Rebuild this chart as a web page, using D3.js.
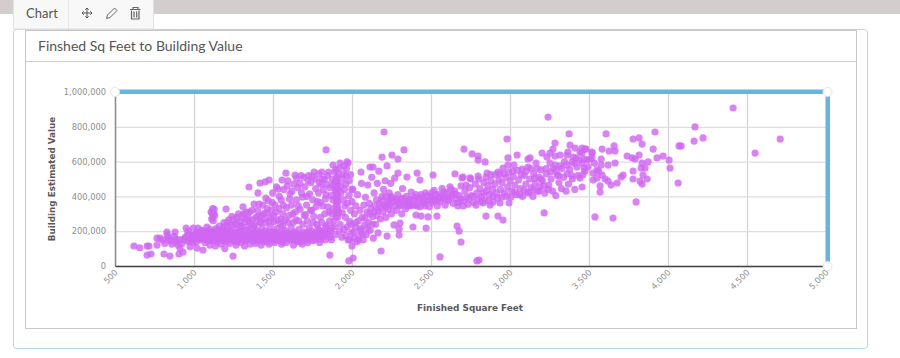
<!DOCTYPE html>
<html lang="en">
<head>
<meta charset="UTF-8">
<title>Finshed Sq Feet to Building Value</title>
<script src="https://cdn.jsdelivr.net/npm/d3@7"></script>
<style>
    html, body { margin: 0; padding: 0; background: #fff; overflow: hidden; }
    svg { display: block; }
</style>
</head>
<body>
<script>
    var xTicks = [500, 1000, 1500, 2000, 2500, 3000, 3500, 4000, 4500, 5000];
    var yTicks = [0, 200000, 400000, 600000, 800000, 1000000];

    // values: [finished sq ft, building value]
    var smallHomes = [[620,115000],[656,105000],[703,115000],[715,115000],[703,63000],[728,69000],[810,69000],[848,57000],[766,120000],[766,160000],[785,160000],[800,150000],[829,195000],[836,167000],[815,130000],[840,150000],[860,125000],[880,195000],[875,170000],[890,140000],[911,103000],[930,80000],[905,69000],[900,120000],[925,130000],[950,218000],[945,165000],[960,185000],[975,110000],[985,150000],[995,218000],[970,140000],[990,175000],[830,180000],[855,145000],[885,155000],[910,150000],[935,155000],[955,145000],[965,200000],[980,165000],[995,135000]];

    var band1000 = [[1005,160000],[1010,185000],[1015,140000],[1019,103000],[1025,218000],[1030,175000],[1035,195000],[1040,150000],[1045,170000],[1050,205000],[1057,92000],[1060,160000],[1065,185000],[1070,135000],[1075,175000],[1082,224000],[1085,150000],[1090,195000],[1095,165000],[1100,120000],[1100,210000],[1105,180000],[1108,310000],[1110,145000],[1114,305000],[1118,330000],[1120,280000],[1122,260000],[1125,300000],[1128,325000],[1130,290000],[1112,270000],[1115,170000],[1120,200000],[1125,150000],[1130,185000],[1135,115000],[1135,165000],[1140,215000],[1145,140000],[1150,195000],[1155,175000],[1160,230000],[1165,155000],[1170,125000],[1175,190000],[1180,210000],[1185,145000],[1190,250000],[1190,170000],[1195,100000],[1200,195000],[1203,327000],[1205,150000],[1210,230000],[1215,175000],[1220,265000],[1225,130000],[1230,205000],[1235,160000],[1240,285000],[1245,185000],[1247,57000],[1250,145000],[1255,240000],[1260,170000],[1265,120000],[1270,215000],[1275,280000],[1280,155000],[1285,195000],[1290,255000],[1295,135000],[1300,180000],[1305,225000],[1310,340000],[1310,160000],[1315,300000],[1320,115000],[1325,205000],[1330,270000],[1335,150000],[1340,190000],[1345,235000],[1348,454000],[1350,310000],[1355,125000],[1360,170000],[1365,215000],[1370,265000],[1375,145000],[1380,356000],[1380,185000]];

    var band1400 = [[1385,240000],[1390,130000],[1395,205000],[1400,165000],[1405,420000],[1405,285000],[1410,150000],[1412,356000],[1415,190000],[1418,477000],[1420,255000],[1425,120000],[1430,220000],[1435,170000],[1440,300000],[1445,140000],[1450,483000],[1450,200000],[1455,390000],[1455,250000],[1460,160000],[1465,330000],[1470,180000],[1475,494000],[1475,125000],[1480,225000],[1485,280000],[1490,150000],[1495,365000],[1500,195000],[1505,255000],[1510,135000],[1515,170000],[1520,310000],[1525,215000],[1532,442000],[1535,145000],[1540,400000],[1545,185000],[1550,270000],[1555,125000],[1557,494000],[1560,230000],[1565,350000],[1570,160000],[1575,205000],[1582,534000],[1585,135000],[1590,460000],[1595,250000],[1600,180000],[1605,385000],[1610,150000],[1615,220000],[1620,430000],[1625,300000],[1630,120000],[1635,195000],[1640,523000],[1640,165000],[1645,265000],[1650,505000],[1655,140000],[1660,345000],[1665,210000],[1670,475000],[1675,175000],[1680,420000],[1685,125000],[1690,240000],[1695,510000],[1700,155000],[1705,295000],[1710,190000],[1715,400000],[1720,135000],[1725,520000],[1730,220000],[1735,170000],[1740,480000],[1745,320000],[1750,145000],[1755,250000],[1760,540000],[1765,190000],[1770,445000],[1775,160000],[1780,370000],[1785,215000],[1790,530000],[1795,135000],[1800,280000],[1805,470000],[1810,540000],[1810,175000],[1815,345000],[1820,200000],[1825,500000],[1830,150000],[1836,667000],[1835,410000],[1840,235000],[1845,520000],[1850,175000],[1855,310000],[1860,63000],[1860,450000],[1865,200000],[1870,150000],[1875,500000],[1880,580000],[1880,380000],[1885,260000],[1890,540000],[1895,430000],[1895,180000]];

    var column1900 = [[1900,285000],[1900,320000],[1900,355000],[1900,390000],[1900,425000],[1900,460000],[1900,495000],[1905,300000],[1905,340000],[1905,375000],[1905,410000],[1905,445000],[1905,480000],[1905,510000],[1910,280000],[1910,330000],[1910,365000],[1910,400000],[1910,435000],[1910,470000],[1915,525000],[1915,310000],[1920,200000],[1925,592000],[1925,240000],[1930,420000],[1935,165000],[1940,500000],[1945,530000],[1945,380000],[1950,210000],[1955,345000],[1960,470000],[1965,560000],[1969,598000],[1975,592000],[1975,150000],[1980,29000],[1980,405000],[1985,255000],[1990,525000],[1995,190000]];

    var band2000 = [[2000,115000],[2000,370000],[2005,440000],[2007,46000],[2010,160000],[2015,300000],[2020,225000],[2025,345000],[2030,140000],[2035,410000],[2040,260000],[2045,175000],[2050,320000],[2057,540000],[2055,205000],[2060,475000],[2065,280000],[2070,150000],[2075,350000],[2080,235000],[2085,395000],[2090,180000],[2095,310000],[2100,465000],[2105,250000],[2110,360000],[2114,569000],[2115,205000],[2120,330000],[2125,510000],[2130,285000],[2133,569000],[2135,160000],[2140,420000],[2145,345000],[2150,240000],[2155,380000],[2160,475000],[2165,190000],[2165,320000],[2170,545000],[2175,360000],[2180,270000],[2184,86000],[2190,626000],[2190,400000],[2195,310000],[2203,770000],[2200,440000],[2205,345000],[2210,490000],[2215,280000],[2222,575000],[2222,172000],[2225,375000],[2230,325000],[2235,420000],[2240,355000],[2245,475000],[2253,638000],[2250,300000],[2255,390000],[2260,340000],[2266,236000],[2270,505000],[2275,370000],[2280,320000],[2291,615000],[2291,534000],[2290,410000],[2298,178000],[2298,213000],[2300,350000],[2304,247000],[2310,385000],[2315,300000],[2320,445000],[2329,667000],[2330,360000],[2340,330000],[2348,511000],[2345,400000],[2355,370000],[2365,345000],[2375,425000],[2386,224000],[2385,385000],[2395,350000],[2405,293000],[2405,410000],[2412,534000],[2420,370000],[2430,494000],[2437,287000],[2430,340000],[2445,395000],[2455,360000],[2469,218000],[2465,420000],[2481,282000],[2475,375000],[2490,340000],[2500,400000]];

    var band2500 = [[2513,523000],[2510,365000],[2520,435000],[2530,385000],[2538,287000],[2540,345000],[2550,410000],[2557,52000],[2560,370000],[2570,445000],[2580,390000],[2590,350000],[2600,420000],[2610,375000],[2620,455000],[2630,400000],[2640,360000],[2652,529000],[2650,430000],[2660,385000],[2665,230000],[2670,345000],[2678,201000],[2680,405000],[2690,138000],[2690,460000],[2696,506000],[2703,511000],[2700,375000],[2709,672000],[2715,430000],[2725,395000],[2735,355000],[2747,506000],[2745,450000],[2760,644000],[2755,405000],[2770,365000],[2780,470000],[2791,29000],[2790,420000],[2798,632000],[2798,609000],[2798,517000],[2804,34000],[2800,385000],[2810,445000],[2820,400000],[2830,362000],[2835,480000],[2842,598000],[2842,379000],[2848,287000],[2850,430000],[2855,534000],[2860,460000],[2874,350000],[2870,410000],[2880,490000],[2893,368000],[2890,440000],[2905,470000],[2915,420000],[2924,540000],[2924,287000],[2930,495000],[2937,362000],[2940,440000],[2956,563000],[2956,264000],[2950,480000],[2965,420000],[2975,510000],[2981,730000],[2987,621000],[2987,580000],[2994,362000],[2985,455000],[3000,490000]];

    var band3000 = [[3010,430000],[3025,580000],[3020,515000],[3030,465000],[3045,638000],[3040,410000],[3055,495000],[3065,445000],[3076,557000],[3080,400000],[3090,520000],[3100,470000],[3114,569000],[3114,615000],[3110,425000],[3127,621000],[3125,500000],[3135,450000],[3150,530000],[3145,400000],[3165,592000],[3160,475000],[3175,430000],[3185,510000],[3196,552000],[3190,455000],[3203,649000],[3205,490000],[3216,305000],[3220,420000],[3234,626000],[3230,530000],[3241,856000],[3245,465000],[3253,649000],[3253,592000],[3260,500000],[3272,672000],[3270,430000],[3285,707000],[3285,632000],[3285,580000],[3290,405000],[3300,520000],[3317,638000],[3317,575000],[3310,480000],[3325,445000],[3340,510000],[3355,430000],[3361,638000],[3361,580000],[3367,655000],[3370,470000],[3374,759000],[3380,695000],[3393,598000],[3399,626000],[3395,500000],[3412,678000],[3418,621000],[3410,440000],[3424,569000],[3430,520000],[3443,655000],[3443,506000],[3456,678000],[3456,649000],[3456,592000],[3456,454000],[3469,615000],[3469,563000],[3475,672000],[3475,546000],[3481,672000],[3488,609000],[3507,615000],[3519,655000],[3519,649000],[3519,621000],[3526,534000],[3526,494000],[3538,282000],[3551,552000],[3551,506000],[3570,460000],[3570,425000],[3577,615000],[3577,580000],[3583,672000],[3583,523000]];

    var largeHomes = [[3602,500000],[3608,759000],[3621,580000],[3621,488000],[3627,661000],[3640,465000],[3652,276000],[3659,690000],[3665,661000],[3665,592000],[3678,477000],[3703,511000],[3716,523000],[3741,632000],[3773,621000],[3779,730000],[3779,546000],[3779,500000],[3792,615000],[3798,368000],[3817,736000],[3817,638000],[3823,488000],[3830,563000],[3836,701000],[3836,592000],[3836,471000],[3842,523000],[3855,563000],[3868,500000],[3874,598000],[3906,672000],[3918,770000],[3931,621000],[3969,632000],[4007,609000],[4013,563000],[4064,477000],[4070,690000],[4083,690000],[4165,718000],[4171,799000],[4222,736000],[4412,908000],[4551,649000],[4710,730000]];

    // the crowded stretch along the bottom of the cloud
    var denseBand = [[1000,175000],[1012,165000],[1022,190000],[1033,155000],[1042,180000],[1052,170000],[1062,200000],[1072,160000],[1083,185000],[1092,145000],[1103,175000],[1113,195000],[1123,165000],[1133,180000],[1143,150000],[1153,205000],[1163,170000],[1173,185000],[1183,160000],[1193,195000],[1203,140000],[1213,180000],[1223,160000],[1233,200000],[1243,150000],[1253,175000],[1263,190000],[1273,140000],[1283,170000],[1293,200000],[1303,155000],[1313,180000],[1323,145000],[1333,170000],[1343,205000],[1353,160000],[1363,185000],[1373,150000],[1383,175000],[1393,195000],[1403,145000],[1413,170000],[1423,150000],[1433,190000],[1443,165000],[1453,175000],[1463,140000],[1473,195000],[1483,160000],[1493,180000],[1503,150000],[1513,195000],[1523,165000],[1533,180000],[1543,155000],[1553,195000],[1563,140000],[1573,175000],[1583,160000],[1593,190000],[1603,165000],[1613,180000],[1623,150000],[1633,170000],[1643,190000],[1653,155000],[1663,180000],[1673,140000],[1683,165000],[1693,195000],[1703,175000],[1713,150000],[1723,185000],[1733,160000],[1743,200000],[1753,170000],[1763,150000],[1773,185000],[1783,165000],[1793,205000],[1803,155000],[1813,190000],[1823,170000],[1833,225000],[1843,185000],[1853,200000],[1863,165000],[1873,220000]];

    // filling of the upper cloud between 1,200 and 1,950 sq ft
    var upperCloud = [[1190,225000],[1215,250000],[1235,235000],[1250,270000],[1268,250000],[1282,300000],[1295,230000],[1305,285000],[1318,255000],[1330,310000],[1342,280000],[1355,250000],[1368,320000],[1378,230000],[1392,280000],[1402,320000],[1418,250000],[1428,290000],[1435,350000],[1448,270000],[1458,305000],[1470,375000],[1478,260000],[1488,320000],[1498,420000],[1503,290000],[1512,350000],[1522,455000],[1528,265000],[1538,330000],[1548,240000],[1552,380000],[1562,300000],[1568,440000],[1578,265000],[1586,335000],[1594,490000],[1602,290000],[1608,415000],[1618,350000],[1628,250000],[1632,470000],[1642,310000],[1648,380000],[1658,450000],[1662,260000],[1672,325000],[1678,520000],[1688,395000],[1698,290000],[1702,455000],[1712,350000],[1718,260000],[1722,490000],[1732,415000],[1738,320000],[1748,515000],[1752,380000],[1758,285000],[1768,500000],[1772,340000],[1778,240000],[1788,420000],[1792,480000],[1798,365000],[1808,250000],[1812,500000],[1818,440000],[1828,300000],[1832,385000],[1842,470000],[1848,340000],[1852,540000],[1858,260000],[1868,405000],[1872,300000],[1878,465000],[1882,330000],[1888,225000],[1892,480000],[1898,555000],[1918,560000],[1928,460000],[1938,305000],[1948,575000],[1952,440000],[1958,280000],[1962,520000],[1972,360000],[1982,490000],[1992,320000],[1998,440000]];

    // filling of the rising band past 2,000 sq ft
    var risingBand = [[1960,175000],[1970,225000],[1985,150000],[1995,240000],[2010,195000],[2025,250000],[2040,150000],[2052,215000],[2068,185000],[2082,275000],[2098,215000],[2112,300000],[2128,240000],[2142,310000],[2158,290000],[2172,335000],[2186,375000],[2198,345000],[2212,400000],[2218,340000],[2232,365000],[2248,400000],[2262,375000],[2282,385000],[2295,360000],[2308,345000],[2322,390000],[2335,375000],[2352,345000],[2368,385000],[2382,350000],[2398,395000],[2412,345000],[2425,385000],[2438,410000],[2452,375000],[2462,345000],[2478,405000],[2492,380000],[2505,420000],[2518,375000],[2528,410000],[2542,380000],[2555,390000],[2568,405000],[2585,425000],[2598,385000],[2615,395000],[2628,440000],[2642,415000],[2658,410000],[2672,365000],[2688,385000],[2705,345000],[2722,465000],[2738,385000],[2752,500000],[2768,400000],[2785,350000],[2802,500000],[2818,370000],[2832,420000],[2848,510000],[2865,375000],[2878,525000],[2892,400000],[2908,525000],[2922,390000],[2935,530000],[2948,395000],[2962,530000],[2978,400000],[2992,540000],[3005,395000],[3018,545000],[3032,425000],[3048,550000],[3062,410000],[3072,525000],[3088,435000],[3102,545000],[3118,420000],[3132,560000],[3148,440000],[3158,505000],[3172,560000],[3182,430000],[3198,500000],[3212,460000],[3228,560000],[3242,440000],[3258,540000],[3275,560000],[3292,545000],[3308,520000],[3328,560000],[3345,600000],[3362,530000],[3378,555000],[3392,520000],[3408,590000],[3438,610000],[3462,525000],[3495,570000],[3535,590000],[3560,545000]];

    var W = 900, H = 358;
    var plot = { left: 115, right: 826, top: 92, bottom: 266 };

    var svg = d3.select("body").append("svg")
        .attr("width", W)
        .attr("height", H)
        .attr("viewBox", [0, 0, W, H]);

    var bodyFont = "Lato, 'Open Sans', sans-serif";
    var chartFont = "'DejaVu Sans', Verdana, sans-serif";

    // page chrome
    svg.append("rect").attr("width", W).attr("height", 14).attr("fill", "#d3cecd");
    svg.append("rect")
        .attr("x", 13.5).attr("y", 29.5).attr("width", 854).attr("height", 319).attr("rx", 3)
        .attr("fill", "#fff").attr("stroke", "#b5d6ea");
    svg.append("rect")
        .attr("x", 25.5).attr("y", 30.5).attr("width", 831).attr("height", 298)
        .attr("fill", "#fff").attr("stroke", "#c8c8c8");
    svg.append("line")
        .attr("x1", 26).attr("x2", 856).attr("y1", 61.5).attr("y2", 61.5)
        .attr("stroke", "#cccccc");
    svg.append("text")
        .attr("x", 38).attr("y", 51)
        .attr("font-family", bodyFont).attr("font-size", 14).attr("fill", "#555555")
        .text("Finshed Sq Feet to Building Value");

    // edit toolbar
    var toolbar = svg.append("g");
    toolbar.append("rect")
        .attr("x", 13.5).attr("y", -1).attr("width", 140).attr("height", 30)
        .attr("fill", "#f8f8f8").attr("stroke", "#e2e2e2");
    toolbar.append("line")
        .attr("x1", 68.5).attr("x2", 68.5).attr("y1", 0).attr("y2", 29)
        .attr("stroke", "#e8e8e8");
    toolbar.append("text")
        .attr("x", 26).attr("y", 17.5)
        .attr("font-family", bodyFont).attr("font-size", 13).attr("fill", "#555555")
        .text("Chart");
    // move icon
    toolbar.append("path")
        .attr("d", "M87 8V18M82 13H92M85.3 9.7L87 8L88.7 9.7M85.3 16.3L87 18L88.7 16.3M83.7 11.3L82 13L83.7 14.7M90.3 11.3L92 13L90.3 14.7")
        .attr("fill", "none").attr("stroke", "#555").attr("stroke-width", 1);
    // pencil icon
    toolbar.append("path")
        .attr("d", "M106.5 18.5L107.5 15L114.5 8L117 10.5L110 17.5Z")
        .attr("fill", "none").attr("stroke", "#666").attr("stroke-width", 1);
    // trash icon
    toolbar.append("path")
        .attr("d", "M130 9.5H140.5M133 9.5V7.5H138V9.5M131.5 10.5V19H139V10.5M134 11.5V17.5M136.7 11.5V17.5")
        .attr("fill", "none").attr("stroke", "#666").attr("stroke-width", 1.2);

    // scales
    var xScale = d3.scaleLinear().domain([500, 5000]).range([plot.left, plot.right]);
    var yScale = d3.scaleLinear().domain([0, 1000000]).range([plot.bottom, plot.top]);

    // grid
    var grid = svg.append("g");
    grid.append("g")
        .attr("transform", "translate(0," + plot.bottom + ")")
        .call(d3.axisBottom(xScale).tickValues(xTicks).tickSize(-(plot.bottom - plot.top)).tickFormat(""))
        .call(function (g) { g.select(".domain").remove(); })
        .selectAll("line").attr("stroke", "#d4d4d4").attr("stroke-width", 1.3);
    grid.append("g")
        .attr("transform", "translate(" + plot.left + ",0)")
        .call(d3.axisLeft(yScale).tickValues(yTicks).tickSize(-(plot.right - plot.left)).tickFormat(""))
        .call(function (g) { g.select(".domain").remove(); })
        .selectAll("line").attr("stroke", "#dedede").attr("stroke-width", 1.3);

    // points
    var homes = d3.merge([smallHomes, band1000, band1400, column1900, band2000, band2500, band3000, largeHomes, denseBand, upperCloud, risingBand]);
    svg.append("g").selectAll("circle")
        .data(homes)
        .join("circle")
        .attr("cx", function (d) { return xScale(d[0]); })
        .attr("cy", function (d) { return yScale(d[1]); })
        .attr("r", 3.6)
        .attr("fill", "#cf66f1")
        .attr("fill-opacity", 0.82);

    // axes
    var yAxis = svg.append("g")
        .attr("transform", "translate(" + plot.left + ",0)")
        .call(d3.axisLeft(yScale).tickValues(yTicks).tickSize(0).tickPadding(9).tickFormat(d3.format(",")));
    yAxis.select(".domain").attr("stroke", "#8c8c8c").attr("stroke-width", 1.5);
    yAxis.selectAll("text")
        .attr("font-family", chartFont).attr("font-size", 8.3).attr("fill", "#8f8f8f");

    var xAxis = svg.append("g")
        .attr("transform", "translate(0," + plot.bottom + ")")
        .call(d3.axisBottom(xScale).tickValues(xTicks).tickSize(0).tickFormat(d3.format(",")));
    xAxis.select(".domain").attr("stroke", "#444").attr("stroke-width", 1.5);
    xAxis.selectAll("text")
        .attr("font-family", chartFont).attr("font-size", 8.3).attr("fill", "#8f8f8f")
        .attr("text-anchor", "end")
        .attr("dx", "-3px").attr("dy", "4px")
        .attr("transform", "rotate(-45)");

    // axis titles
    svg.append("text")
        .attr("transform", "translate(55,179) rotate(-90)")
        .attr("text-anchor", "middle")
        .attr("font-family", chartFont).attr("font-weight", "bold").attr("font-size", 8.8).attr("fill", "#5a5a5a")
        .text("Building Estimated Value");
    svg.append("text")
        .attr("x", 470).attr("y", 311)
        .attr("text-anchor", "middle")
        .attr("font-family", chartFont).attr("font-weight", "bold").attr("font-size", 8.9).attr("fill", "#5a5a5a")
        .text("Finished Square Feet");

    // range sliders
    svg.append("rect")
        .attr("x", plot.left).attr("y", 89.5).attr("width", plot.right - plot.left + 4).attr("height", 4.5)
        .attr("fill", "#67b4dc");
    svg.append("rect")
        .attr("x", 825.5).attr("y", 92).attr("width", 4.5).attr("height", plot.bottom - plot.top)
        .attr("fill", "#67b4dc");
    svg.append("g").selectAll("circle")
        .data([[plot.left, 92], [827.5, 92], [827.5, 266]])
        .join("circle")
        .attr("cx", function (d) { return d[0]; })
        .attr("cy", function (d) { return d[1]; })
        .attr("r", 4.5)
        .attr("fill", "#fff")
        .attr("stroke", "#e4e4e4");
</script>
</body>
</html>
